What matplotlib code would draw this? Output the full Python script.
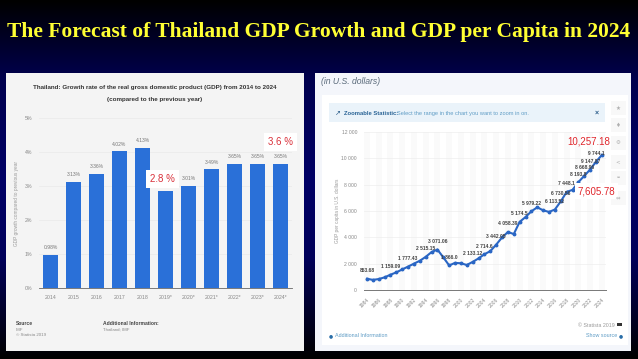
#!/usr/bin/env python3
"""Slide: Thailand GDP growth bars and GDP per capita line, side by side."""
import numpy as np
import matplotlib
matplotlib.use("Agg")
import matplotlib.pyplot as plt
from matplotlib.colors import LinearSegmentedColormap
from matplotlib.patches import Rectangle

W, H = 638, 359

# left chart
BAR_YEARS = ["2014", "2015", "2016", "2017", "2018", "2019*", "2020*", "2021*", "2022*", "2023*", "2024*"]
BAR_VALUES = [0.98, 3.13, 3.36, 4.02, 4.13, 2.86, 3.01, 3.49, 3.65, 3.65, 3.65]
BAR_LABELS = ["0.98%", "3.13%", "3.36%", "4.02%", "4.13%", "", "3.01%", "3.49%", "3.65%", "3.65%", "3.65%"]
BAR_TICKS = [0, 1, 2, 3, 4, 5]

# right chart
LINE_YEARS = list(range(1984, 2025))
LINE_VALUES = [853.68, 770, 830, 960, 1159.09, 1340, 1560, 1777.43, 2000, 2220,
               2515.15, 2880, 3071.06, 2480, 1866.0, 2060, 2030, 1900, 2133.12, 2400,
               2714.6, 2950, 3442.05, 3990, 4404, 4250, 5174.5, 5540, 5979.22, 6280,
               6050, 5930, 6113.52, 6730.56, 7448.1, 7605.78, 8193.8, 8668.96, 9147.87, 9744.1,
               10257.18]
LINE_TICKS = [0, 2000, 4000, 6000, 8000, 10000, 12000]
POINT_LABELS = {
    1984: "853.68", 1988: "1 159.09", 1991: "1 777.43", 1994: "2 515.15", 1996: "3 071.06",
    1998: "1 866.0", 2002: "2 133.12", 2004: "2 714.6", 2006: "3 442.05", 2008: "4 058.39",
    2010: "5 174.5", 2012: "5 979.22", 2016: "6 113.52", 2017: "6 730.56", 2018: "7 448.1",
    2020: "8 193.8", 2021: "8 668.96", 2022: "9 147.87", 2023: "9 744.1",
}


def px_axes(fig, x0, y0, x1, y1, **kw):
    # pixel box with origin top left, like the zoom tool
    return fig.add_axes([x0 / W, 1 - y1 / H, (x1 - x0) / W, (y1 - y0) / H], **kw)


def px_text(fig, x, y, s, **kw):
    return fig.text(x / W, 1 - y / H, s, **kw)


def px_rect(fig, x0, y0, x1, y1, color, zorder=1):
    fig.add_artist(Rectangle((x0 / W, 1 - y1 / H), (x1 - x0) / W, (y1 - y0) / H,
                             transform=fig.transFigure, color=color, lw=0, zorder=zorder))


def main() -> None:
    plt.rcParams["font.family"] = ["Liberation Sans", "DejaVu Sans"]
    fig = plt.figure(figsize=(W / 100, H / 100), dpi=100)

    # slide background
    bg = px_axes(fig, 0, 0, W, H, zorder=0)
    cmap = LinearSegmentedColormap.from_list(
        "slide", [(0, "#000000"), (0.22, "#00004e"), (0.5, "#000066"), (0.72, "#00005a"),
                  (0.9, "#000020"), (1, "#000000")])
    bg.imshow(np.linspace(0, 1, 256)[:, None], aspect="auto", cmap=cmap)
    bg.axis("off")

    px_text(fig, 319, 37, "The Forecast of Thailand GDP Growth and GDP per Capita in 2024",
            color="#ffff33", fontsize=15.45, fontweight="bold", family="Liberation Serif",
            ha="center", va="baseline")

    # left panel
    px_rect(fig, 6, 73, 304, 351, "#f4f4f4")
    px_text(fig, 155, 89, "Thailand: Growth rate of the real gross domestic product (GDP) from 2014 to 2024",
            fontsize=4.5, fontweight="bold", color="#333333", ha="center", zorder=3)
    px_text(fig, 155, 101, "(compared to the previous year)",
            fontsize=4.5, fontweight="bold", color="#333333", ha="center", zorder=3)

    ax = px_axes(fig, 39, 118, 292, 288, zorder=2)
    ax.patch.set_alpha(0)
    x = np.arange(len(BAR_YEARS))
    ax.bar(x, BAR_VALUES, width=0.68, color="#2a70d8", zorder=3)
    for xi, v, s in zip(x, BAR_VALUES, BAR_LABELS):
        ax.annotate(s, (xi, v), xytext=(0, 4), textcoords="offset points",
                    ha="center", fontsize=3.6, color="#777777")
    ax.set_xlim(-0.5, len(BAR_YEARS) - 0.5)
    ax.set_ylim(0, 5)
    ax.set_xticks(x)
    ax.set_xticklabels(BAR_YEARS)
    ax.set_yticks(BAR_TICKS)
    ax.set_yticklabels([f"{t}%" for t in BAR_TICKS])
    ax.tick_params(length=0, labelsize=3.8, labelcolor="#888888", pad=5)
    ax.grid(axis="y", color="#e9e9e9", lw=0.5, zorder=0)
    for s in ["top", "left", "right"]:
        ax.spines[s].set_visible(False)
    ax.spines["bottom"].set_color("#666666")
    ax.spines["bottom"].set_linewidth(0.6)
    ax.set_ylabel("GDP growth compared to previous year", fontsize=3.4, color="#999999", labelpad=4)

    ax.text(4.87, 3.2, "2.8 %", color="#d9303a", fontsize=7, ha="center", va="center", zorder=5,
            bbox=dict(fc="white", ec="none", pad=3))
    ax.text(10, 4.3, "3.6 %", color="#d9303a", fontsize=7, ha="center", va="center", zorder=5,
            bbox=dict(fc="white", ec="none", pad=3))

    px_text(fig, 16, 325, "Source", fontsize=3.6, fontweight="bold", color="#444444", zorder=3)
    px_text(fig, 16, 331, "IMF", fontsize=3.2, color="#888888", zorder=3)
    px_text(fig, 16, 336, "© Statista 2019", fontsize=3.2, color="#888888", zorder=3)
    px_text(fig, 103, 325, "Additional Information:", fontsize=3.6, fontweight="bold", color="#444444", zorder=3)
    px_text(fig, 103, 331, "Thailand; IMF", fontsize=3.2, color="#888888", zorder=3)

    # right panel
    px_rect(fig, 315, 73, 631, 351, "#f4f6fb")
    px_rect(fig, 322, 95, 628, 345, "#ffffff")
    px_rect(fig, 329, 103, 605, 122, "#eaf3fa", zorder=2)
    px_text(fig, 321, 84, "(in U.S. dollars)", fontsize=6.2, style="italic", color="#5a6a7a", zorder=3)
    px_text(fig, 335, 115, "↗", fontsize=5, color="#2a5c8a", family="DejaVu Sans", zorder=3)
    px_text(fig, 344, 114.5, "Zoomable Statistic:", fontsize=4.2, fontweight="bold", color="#2a6496", zorder=3)
    px_text(fig, 397, 114.5, "Select the range in the chart you want to zoom in on.", fontsize=4.1,
            color="#5f9cc5", zorder=3)
    px_text(fig, 597, 114.5, "×", fontsize=5, fontweight="bold", color="#2a5c8a", ha="center", zorder=3)
    for y, glyph in zip([108, 125, 143, 162, 178, 198], ["★", "♦", "⚙", "<", "❝", "⇔"]):
        px_rect(fig, 611, y - 7, 626, y + 7, "#f8f8f8", zorder=2)
        px_text(fig, 618, y, glyph, fontsize=4, color="#b0b0b0", family="DejaVu Sans",
                ha="center", va="center", zorder=3)

    ax2 = px_axes(fig, 364, 132, 606, 290, zorder=2)
    ax2.patch.set_alpha(0)
    for yr in LINE_YEARS[::2]:
        ax2.axvspan(yr - 0.5, yr + 0.5, color="#fafafa", lw=0, zorder=0)
    ax2.plot(LINE_YEARS, LINE_VALUES, color="#2a66c4", lw=1.5, marker="o", ms=1.8, zorder=3)
    for yr, s in POINT_LABELS.items():
        v = LINE_VALUES[LINE_YEARS.index(yr)]
        ax2.annotate(s, (yr, v), xytext=(0, 4.7), textcoords="offset points", ha="center",
                     fontsize=3.6, fontweight="bold", color="#444444", zorder=4)
    ax2.set_xlim(1983.5, 2024.7)
    ax2.set_ylim(0, 12000)
    ax2.set_xticks(LINE_YEARS[::2])
    ax2.set_xticklabels(LINE_YEARS[::2], rotation=45, ha="right", rotation_mode="anchor")
    ax2.set_yticks(LINE_TICKS)
    ax2.set_yticklabels([f"{t:,}".replace(",", " ") for t in LINE_TICKS])
    ax2.tick_params(length=0, labelsize=3.6, labelcolor="#888888", pad=5)
    ax2.grid(axis="y", color="#eeeeee", lw=0.5, zorder=1)
    for s in ["top", "left", "right"]:
        ax2.spines[s].set_visible(False)
    ax2.spines["bottom"].set_color("#777777")
    ax2.spines["bottom"].set_linewidth(0.7)
    ax2.set_ylabel("GDP per capita in U.S. dollars", fontsize=3.4, color="#999999", labelpad=1)

    ax2.text(2023.1, 7500, "7,605.78", color="#e0262c", fontsize=7, ha="center", va="center", zorder=6,
             clip_on=False, bbox=dict(fc="white", ec="none", pad=2))
    ax2.text(2021.8, 11300, "10,257.18", color="#e0262c", fontsize=7, ha="center", va="center",
             zorder=6, clip_on=False)

    px_text(fig, 615, 327, "© Statista 2019", fontsize=3.8, color="#999999", ha="right", zorder=3)
    px_rect(fig, 617, 323, 622, 326, "#333333", zorder=3)
    px_text(fig, 335, 337, "Additional Information", fontsize=3.9, color="#5f9cc5", zorder=3)
    px_text(fig, 329, 337, "●", fontsize=3.4, color="#2a6ea8", family="DejaVu Sans", zorder=3)
    px_text(fig, 617, 337, "Show source", fontsize=3.9, color="#5f9cc5", ha="right", zorder=3)
    px_text(fig, 618.5, 337, "●", fontsize=3.4, color="#2a6ea8", family="DejaVu Sans", zorder=3)

    fig.savefig("out.png", dpi=100)


if __name__ == "__main__":
    main()
